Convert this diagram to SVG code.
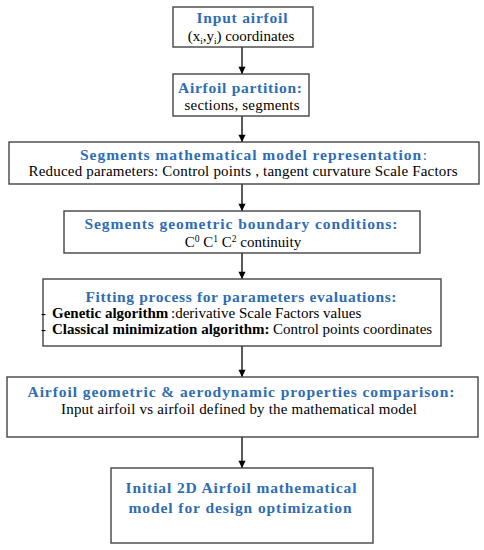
<svg xmlns="http://www.w3.org/2000/svg" width="484" height="550" viewBox="0 0 484 550">
<defs>
<marker id="ah" viewBox="0 0 10 14" refX="10" refY="5" markerWidth="14" markerHeight="10" markerUnits="userSpaceOnUse" orient="auto">
<path d="M0,0 L10,5 L0,10 Z" fill="#000"/>
</marker>
<style>
.box{fill:#fff;stroke:#444;stroke-width:1.4}
.t{font-family:"Liberation Serif","Times New Roman",serif;font-weight:bold;font-size:15.5px;fill:#2E6DB5;text-anchor:middle}
.b{font-family:"Liberation Serif","Times New Roman",serif;font-size:15px;fill:#000;text-anchor:middle}
.bl{font-family:"Liberation Serif","Times New Roman",serif;font-size:15px;fill:#000}
.k{font-weight:bold}
.c{stroke:#000;stroke-width:1.3;fill:none}
</style>
</defs>
<rect width="484" height="550" fill="#fff"/>
<g id="connectors">
<line class="c" x1="242" y1="47" x2="242" y2="74" marker-end="url(#ah)"/>
<line class="c" x1="242" y1="116" x2="242" y2="142" marker-end="url(#ah)"/>
<line class="c" x1="242" y1="184" x2="242" y2="211" marker-end="url(#ah)"/>
<line class="c" x1="242" y1="253" x2="242" y2="279" marker-end="url(#ah)"/>
<line class="c" x1="242" y1="346" x2="242" y2="377" marker-end="url(#ah)"/>
<line class="c" x1="242" y1="437" x2="242" y2="468" marker-end="url(#ah)"/>
</g>
<g id="n1">
<rect class="box" x="173" y="7" width="140" height="40"/>
<text class="t" x="242" y="23" textLength="91">Input airfoil</text>
<text class="b" x="241" y="41">(x<tspan font-size="9" dy="3">i</tspan><tspan dy="-3">,y</tspan><tspan font-size="9" dy="3">i</tspan><tspan dy="-3">) coordinates</tspan></text>
</g>
<g id="n2">
<rect class="box" x="173" y="74" width="136" height="42"/>
<text class="t" x="240" y="93" textLength="124">Airfoil partition:</text>
<text class="b" x="242" y="110" textLength="115">sections, segments</text>
</g>
<g id="n3">
<rect class="box" x="9" y="142" width="470" height="42"/>
<text class="t" x="80" y="160" textLength="341" style="text-anchor:start">Segments mathematical model representation</text>
<text class="t" x="425" y="160" style="font-weight:normal">:</text>
<text class="b" x="243" y="176" textLength="429">Reduced parameters: Control points , tangent curvature Scale Factors</text>
</g>
<g id="n4">
<rect class="box" x="64" y="211" width="356" height="42"/>
<text class="t" x="241" y="229" textLength="313">Segments geometric boundary conditions:</text>
<text class="b" x="243" y="247">C<tspan font-size="9.5" dy="-5">0</tspan><tspan dy="5"> C</tspan><tspan font-size="9.5" dy="-5">1</tspan><tspan dy="5"> C</tspan><tspan font-size="9.5" dy="-5">2</tspan><tspan dy="5"> continuity</tspan></text>
</g>
<g id="n5">
<rect class="box" x="43" y="279" width="398" height="67"/>
<text class="t" x="241" y="302" textLength="311">Fitting process for parameters evaluations:</text>
<text class="bl" x="41" y="318">-</text>
<text class="bl k" x="52" y="318">Genetic algorithm</text>
<text class="bl" x="171" y="318">:derivative Scale Factors values</text>
<text class="bl" x="41" y="334">-</text>
<text class="bl k" x="52" y="334">Classical minimization algorithm:</text>
<text class="bl" x="273" y="334">Control points coordinates</text>
</g>
<g id="n6">
<rect class="box" x="7" y="377" width="471" height="60"/>
<text class="t" x="241" y="397" textLength="427">Airfoil geometric &amp; aerodynamic properties comparison:</text>
<text class="b" x="239" y="414" textLength="356">Input airfoil vs airfoil defined by the mathematical model</text>
</g>
<g id="n7">
<rect class="box" x="111" y="468" width="262" height="75"/>
<text class="t" x="241" y="493" textLength="231">Initial 2D Airfoil mathematical</text>
<text class="t" x="240" y="513" textLength="223">model for design optimization</text>
</g>
</svg>
